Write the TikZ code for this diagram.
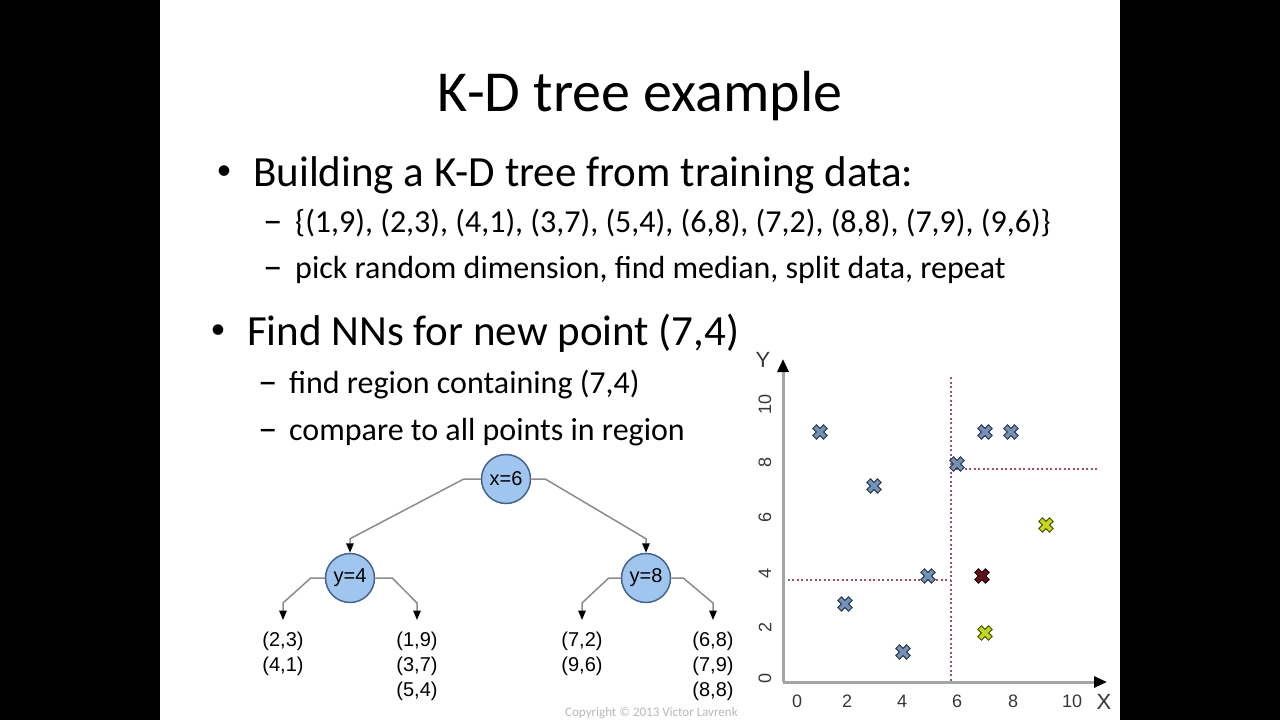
\documentclass[tikz,border=0pt]{standalone}
\usepackage{fontspec}
\setmainfont{Carlito}
\newfontfamily\arialf{Liberation Sans}
\usetikzlibrary{arrows.meta,calc}
\definecolor{nodefill}{RGB}{160,198,240}
\definecolor{nodeline}{RGB}{70,100,140}
\definecolor{edgegray}{RGB}{140,140,140}
\definecolor{axisgray}{RGB}{165,165,165}
\definecolor{splitred}{RGB}{165,80,95}
\definecolor{ptblue}{RGB}{115,145,185}
\definecolor{ptgreen}{RGB}{195,215,35}
\definecolor{ptquery}{RGB}{95,15,30}
\definecolor{ticktext}{RGB}{55,55,55}
\definecolor{copygray}{RGB}{185,185,185}
\newcommand\ptcross[3]{%
  \filldraw[shift={(#1,#2)}, rotate=45, fill=#3, draw=#3!40!black, line width=1pt]
    (-2.6,-7.6) -- (2.6,-7.6) -- (2.6,-2.6) -- (7.6,-2.6) -- (7.6,2.6) -- (2.6,2.6) -- (2.6,7.6) -- (-2.6,7.6)
    -- (-2.6,2.6) -- (-7.6,2.6) -- (-7.6,-2.6) -- (-2.6,-2.6) -- cycle;}
\begin{document}
\begin{tikzpicture}[x=1pt,y=-1pt,
  txt/.style={inner sep=0pt, text=black},
  ttl/.style={txt, font=\fontsize{58}{62}\selectfont},
  lvone/.style={txt, font=\fontsize{43}{50}\selectfont},
  lvtwo/.style={txt, font=\fontsize{32}{38}\selectfont},
  bul/.style={txt, font=\fontsize{30}{34}\selectfont},
  dsh/.style={txt, font=\fontsize{39}{44}\selectfont},
  circ/.style={circle, minimum size=49pt, inner sep=0pt, fill=nodefill, draw=nodeline,
    line width=1.5pt, font=\arialf\fontsize{20}{24}\selectfont},
  leaf/.style={align=center, inner xsep=0pt, inner ysep=12pt,
    font=\arialf\fontsize{20}{24.7}\selectfont},
  edge/.style={draw=edgegray, line width=1.5pt, -{Triangle[width=7.5pt,length=9.5pt,color=black]}},
  axis/.style={draw=axisgray, line width=3pt, -{Triangle[width=11pt,length=13pt,color=black]}},
  split/.style={draw=splitred, line width=2pt, dash pattern=on 2pt off 2.5pt},
  tick/.style={inner sep=0pt, text=ticktext, font=\arialf\fontsize{18}{20}\selectfont},
  axlab/.style={inner sep=0pt, text=ticktext, font=\arialf\fontsize{22}{24}\selectfont}
]
\useasboundingbox (0,0) rectangle (1280,720);
\fill[black] (0,0) rectangle (160,720);
\fill[black] (1120,0) rectangle (1280,720);
\fill[white] (160,0) rectangle (1120,720);

% title and bullets
\node[ttl, anchor=base] (title) at (640,111) {K-D tree example};
\node[bul, anchor=base] (d1) at (224,179) {•};
\node[lvone, anchor=base west] (b1) at (253,186) {Building a K-D tree from training data:};
\node[dsh, anchor=base] (d11) at (273,233) {–};
\node[lvtwo, anchor=base west] (b11) at (295,232) {\{(1,9), (2,3), (4,1), (3,7), (5,4), (6,8), (7,2), (8,8), (7,9), (9,6)\}};
\node[dsh, anchor=base] (d12) at (273,279) {–};
\node[lvtwo, anchor=base west] (b12) at (295,278) {pick random dimension, find median, split data, repeat};
\node[bul, anchor=base] (d2) at (218,338) {•};
\node[lvone, anchor=base west] (b2) at (247,345) {Find NNs for new point (7,4)};
\node[dsh, anchor=base] (d21) at (268,394) {–};
\node[lvtwo, anchor=base west] (b21) at (289,393) {find region containing (7,4)};
\node[dsh, anchor=base] (d22) at (268,441) {–};
\node[lvtwo, anchor=base west] (b22) at (289,440) {compare to all points in region};

% tree
\node[circ] (root) at (506,479) {x=6};
\node[circ] (n4) at (350,578) {y=4};
\node[circ] (n8) at (646,578) {y=8};
\node[leaf, anchor=north] (l1) at (283,620) {(2,3)\\(4,1)};
\node[leaf, anchor=north] (l2) at (417,620) {(1,9)\\(3,7)\\(5,4)};
\node[leaf, anchor=north] (l3) at (582,620) {(7,2)\\(9,6)};
\node[leaf, anchor=north] (l4) at (713,620) {(6,8)\\(7,9)\\(8,8)};
\draw[edge] (root.west) -- ++(-17,0) -- ($(n4.north)+(0,-14)$) -- (n4.north);
\draw[edge] (root.east) -- ++(14,0) -- ($(n8.north)+(0,-14)$) -- (n8.north);
\draw[edge] (n4.west) -- ++(-14,0) -- ($(l1.north)+(0,-17)$) -- (l1.north);
\draw[edge] (n4.east) -- ++(17,0) -- ($(l2.north)+(0,-17)$) -- (l2.north);
\draw[edge] (n8.west) -- ++(-12,0) -- ($(l3.north)+(0,-17)$) -- (l3.north);
\draw[edge] (n8.east) -- ++(12,0) -- ($(l4.north)+(0,-17)$) -- (l4.north);

% plot
\draw[split] (951,377) -- (951,682);
\draw[split] (783,580) -- (951,580);
\draw[split] (951,469) -- (1098,469);
\draw[axis] (783,682) -- (1107,682);
\draw[axis] (783,682) -- (783,359);
\node[axlab] (xl) at (1104,702) {X};
\node[axlab] (yl) at (763,360) {Y};
\foreach \v/\px in {0/797,2/847,4/902,6/957,8/1013,10/1072}
  \node[tick] at (\px,701) {\v};
\foreach \v/\py in {0/678,2/627,4/573,6/517,8/462,10/404}
  \node[tick, rotate=90] at (765,\py) {\v};
\ptcross{820}{432}{ptblue}
\ptcross{874}{486}{ptblue}
\ptcross{845}{604}{ptblue}
\ptcross{903}{652}{ptblue}
\ptcross{928}{576}{ptblue}
\ptcross{957}{464}{ptblue}
\ptcross{985}{432}{ptblue}
\ptcross{1011}{432}{ptblue}
\ptcross{1046}{525}{ptgreen}
\ptcross{985}{633}{ptgreen}
\ptcross{982}{576}{ptquery}

\node[inner sep=0pt, anchor=base west, text=copygray, font=\fontsize{13}{15}\selectfont] (copy) at (565,716) {Copyright © 2013 Victor Lavrenk};
\end{tikzpicture}
\end{document}
